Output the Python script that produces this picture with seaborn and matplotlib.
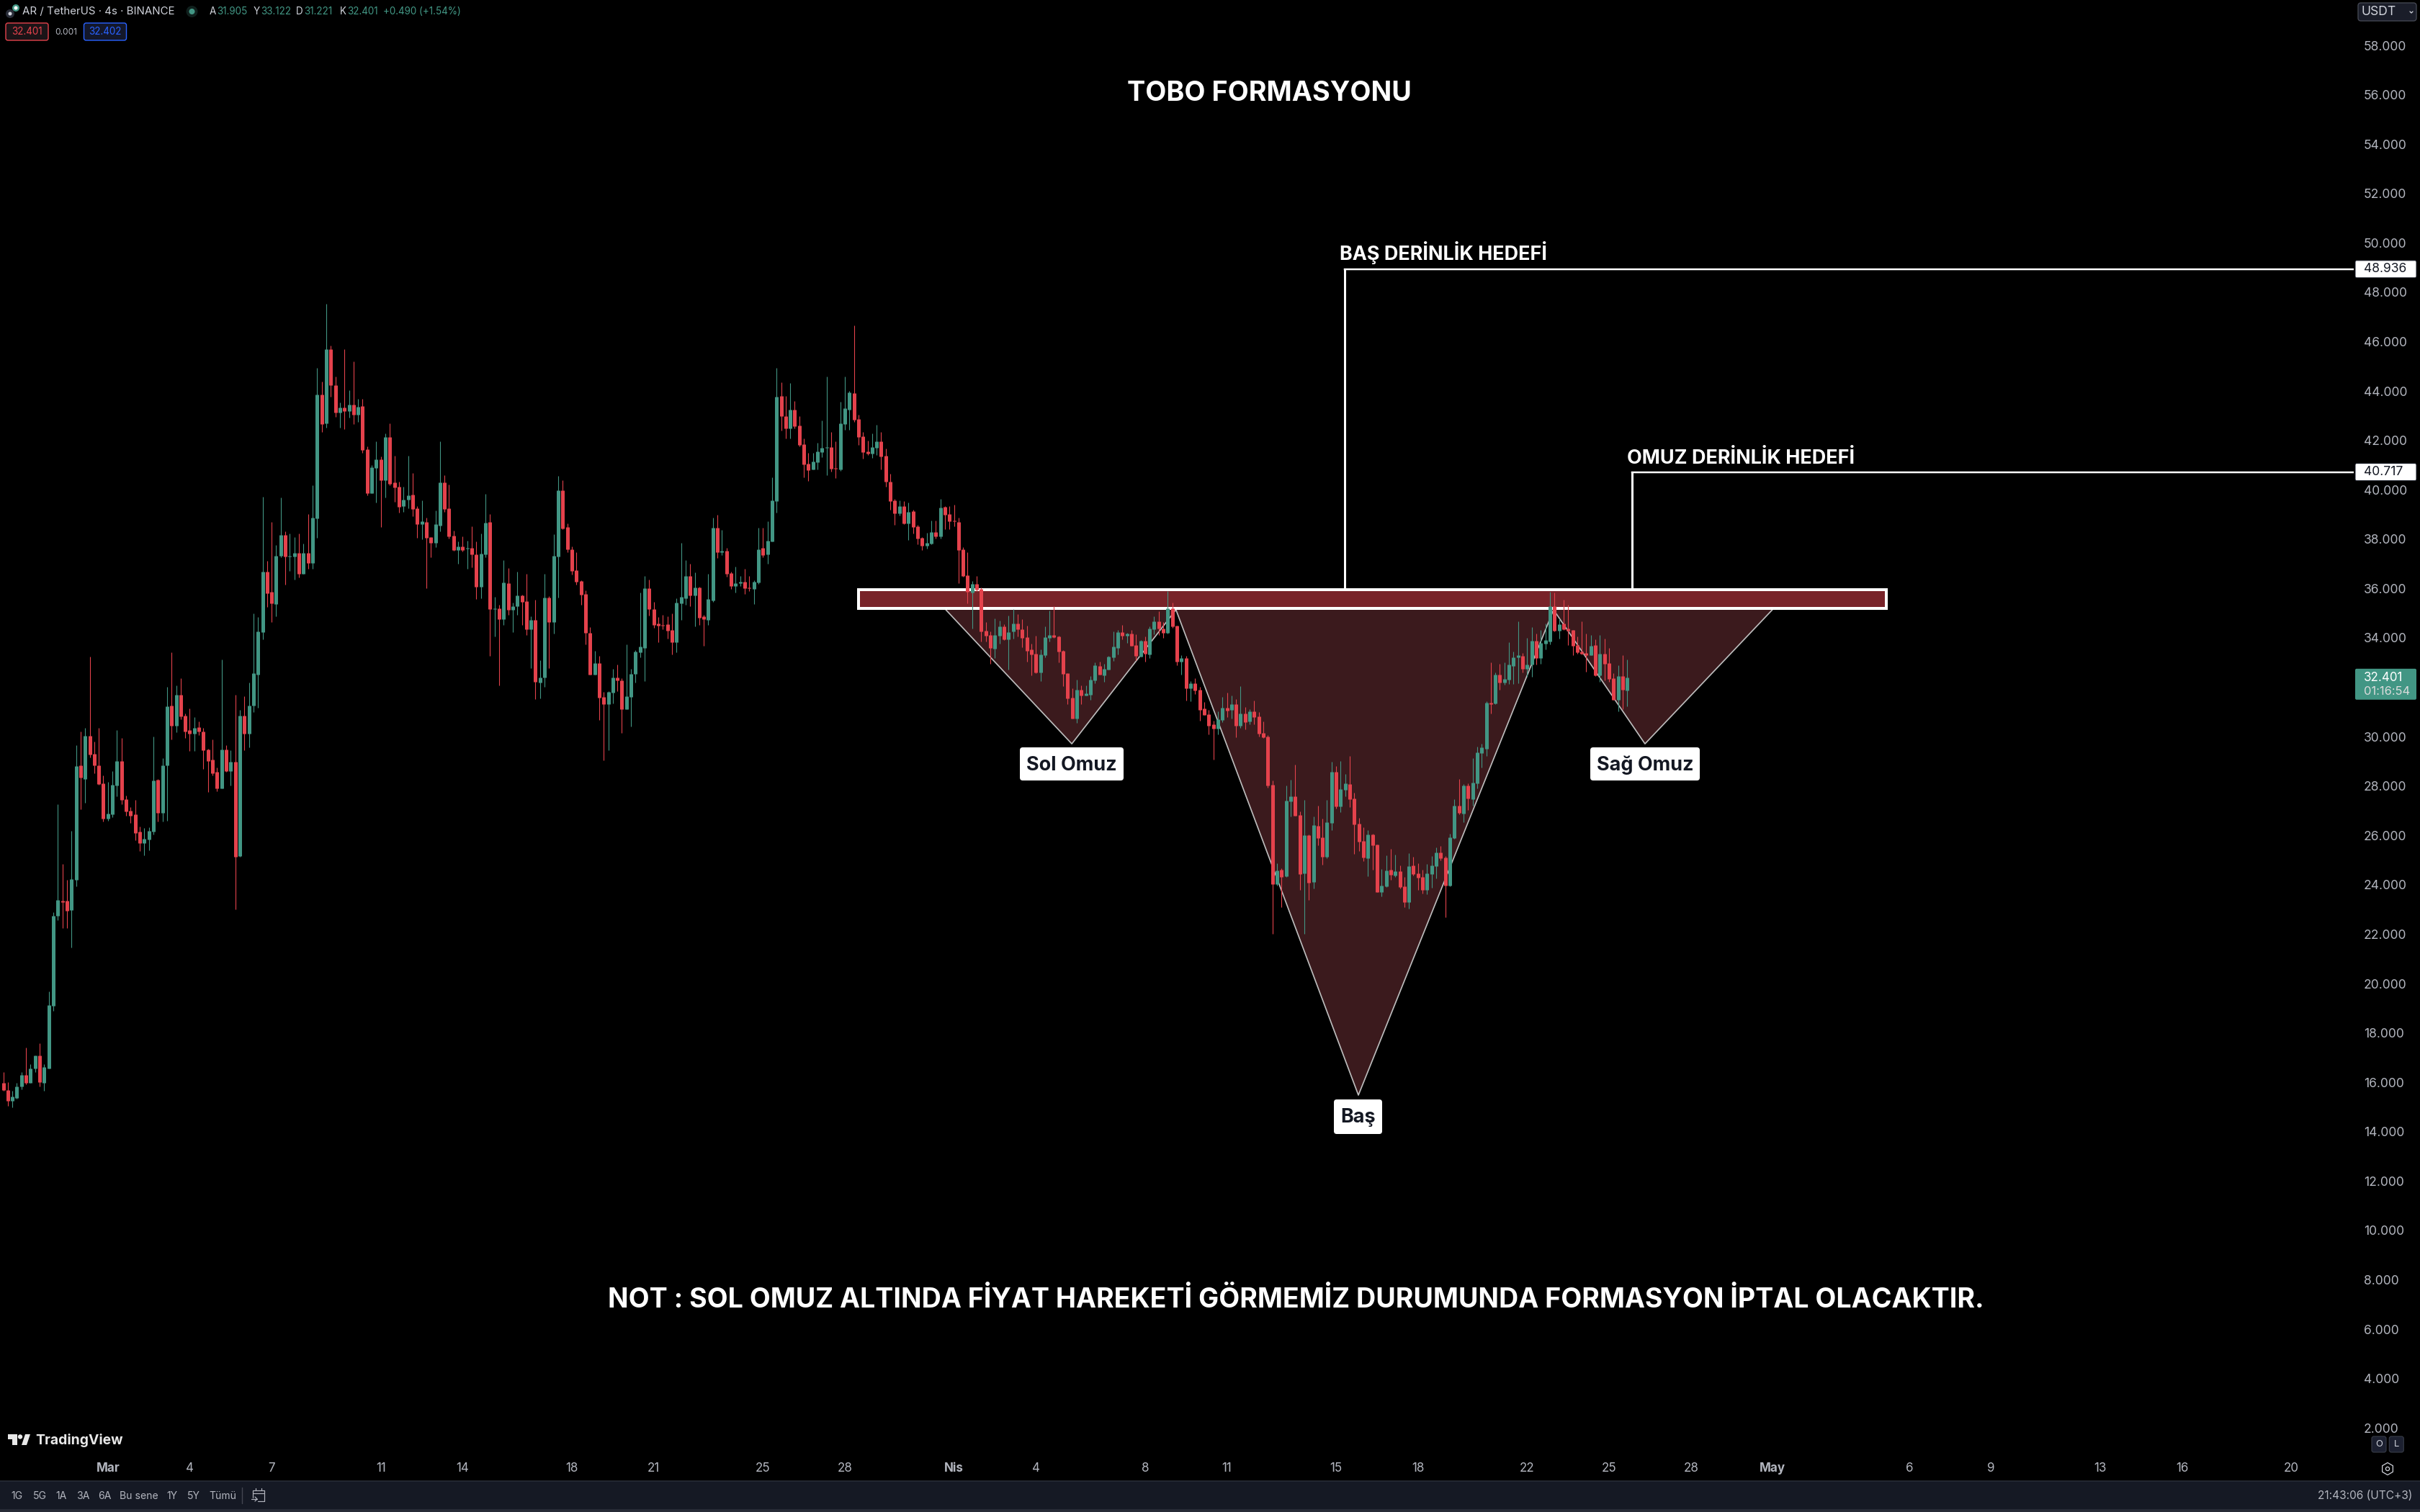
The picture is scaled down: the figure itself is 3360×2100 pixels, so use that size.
import numpy as np
import pandas as pd
import matplotlib
matplotlib.use("Agg")
import matplotlib.pyplot as plt
from matplotlib.patches import Rectangle, FancyBboxPatch, Circle
import seaborn as sns

# ---------- data (prices in USDT, one 4h candle per entry) ----------
candle_dir = ("RRGGGRGGRG" "GGGRRGGRGR" "RRRGGGRRRR" "RGGGRGGRGR" "RRGRRRRRGR" "GRGRGGGGRR"
              "GGRGGRGRGG" "RGRRGRGRGR" "RGGRGRRRGG" "RRGRRGGRRR" "GRGRRGGRGR" "GRGGRRGRGG"
              "RGGRRRRRRR" "GRRGGRRGGG" "GGRRRRRRGG" "GRGRRGGRGR" "RGGRRGGRGG" "GRRGRRRRGG"
              "GGRRGGGRRR" "RGGRRRRGRG" "RRRGGRGRRR" "RRRGRRRRGG" "RGGRRRRRGG" "GRRRRRGRGG"
              "GRGGGGRGRR" "GRGGRRGRRG" "RGRRRRRGGR" "GRGRGRRRRR" "GRGGRRGRGR" "RGGRGGRRRR"
              "GRRGGRGRRG" "RRRGGGRRGG" "RGRGGGGRGR" "GGGGRGGRGG" "GRGRRRRRRG" "RGRRRGRG")

body_top = [
15.97,15.69,15.41,15.84,16.31,16.31,16.57,17.08,17.08,16.61,
19.12,22.75,23.39,23.35,23.35,24.23,28.81,28.83,30.03,30.03,
29.30,28.85,28.10,26.88,28.04,29.00,29.00,27.46,26.99,26.84,
26.15,25.85,26.18,28.21,28.25,28.85,31.22,31.25,31.70,31.70,
30.84,30.26,30.35,30.37,30.22,29.47,29.06,28.57,29.47,29.47,
28.98,28.98,30.84,30.84,31.25,32.57,34.26,36.68,36.68,35.87,
37.32,38.16,38.16,37.32,37.43,37.43,37.43,37.43,38.86,43.85,
43.85,45.69,45.69,44.23,43.33,43.33,43.46,43.46,43.36,43.38,
41.64,40.90,41.22,41.22,42.14,42.14,40.30,40.13,39.59,39.76,
39.80,39.25,38.71,38.69,38.07,38.61,40.30,40.30,39.25,38.13,
37.71,37.71,37.64,37.64,37.39,37.41,38.67,38.69,35.18,35.18,
36.23,36.21,35.28,35.71,35.71,35.48,34.72,34.72,32.40,35.63,
35.63,37.32,39.97,39.97,38.48,37.60,36.74,36.29,35.77,34.20,
32.98,32.98,31.61,31.80,32.40,32.40,32.28,31.64,32.53,33.44,
33.65,36.01,36.01,35.16,34.58,34.52,34.55,34.32,35.42,35.66,
36.50,36.50,36.04,36.04,34.87,35.57,38.45,38.45,37.53,37.53,
36.62,36.21,36.27,36.27,36.04,36.27,37.60,37.63,37.93,39.57,
43.77,43.80,42.98,43.24,43.24,42.60,41.85,41.06,41.15,41.55,
41.70,41.73,41.73,40.88,42.69,43.30,43.94,43.91,42.86,42.16,
41.55,41.73,41.96,41.96,41.37,40.33,39.57,39.33,39.33,39.09,
39.12,38.51,38.05,37.84,38.29,38.29,39.27,39.30,39.02,38.75,
38.69,37.59,36.53,36.18,36.18,35.99,34.30,34.12,34.12,34.47,
34.47,34.24,34.59,34.59,34.35,34.03,33.54,33.36,33.33,34.03,
34.12,34.12,34.06,33.48,32.58,31.58,31.90,31.90,31.76,32.31,
32.89,32.87,32.75,33.25,33.65,34.24,34.24,34.18,34.18,33.71,
33.89,33.89,34.38,34.67,34.67,34.38,35.20,35.20,34.50,33.19,
33.19,32.16,32.16,31.90,31.14,30.91,30.50,30.70,31.17,31.17,
31.32,31.32,30.94,30.94,31.02,31.02,30.82,30.15,30.00,28.05,
24.58,24.61,27.41,27.58,27.58,26.83,26.01,26.01,26.42,26.39,
25.92,26.54,28.58,28.58,27.88,28.11,28.08,27.50,26.48,25.78,
26.04,26.04,25.64,23.97,24.59,24.62,24.56,24.56,23.94,24.76,
24.79,24.47,24.32,24.47,24.79,25.31,25.31,25.11,25.93,27.21,
27.21,28.03,28.03,28.14,29.37,29.57,31.38,31.38,32.52,32.52,
32.34,32.92,33.22,33.30,33.27,32.92,33.88,33.88,33.80,33.91,
35.28,35.28,34.55,34.58,34.38,34.32,33.71,33.45,33.39,33.68,
33.71,33.36,33.36,32.98,32.37,32.45,32.45,32.40]

body_bottom = [
15.67,15.24,15.24,15.37,15.84,15.97,15.97,16.55,16.01,15.99,
16.57,19.09,22.73,23.31,22.95,22.97,24.21,28.34,28.29,29.26,
28.83,28.08,26.67,26.69,26.84,28.02,27.44,26.97,26.80,26.11,
25.70,25.70,25.83,26.15,26.90,26.90,28.83,30.45,30.45,30.82,
30.22,30.11,30.11,30.20,29.45,29.00,28.53,27.89,27.89,28.61,
28.61,25.13,25.15,30.13,30.13,31.25,32.51,34.22,35.80,35.40,
35.36,37.32,37.28,37.28,37.28,36.60,36.60,37.02,37.02,38.84,
42.65,42.69,44.23,43.12,43.12,43.18,43.18,43.04,43.04,41.60,
39.85,39.85,40.87,40.40,40.40,40.25,40.08,39.31,39.33,39.59,
39.21,38.61,38.61,38.05,37.84,37.84,38.56,39.21,38.11,37.56,
37.56,37.56,37.62,37.39,36.06,36.06,37.39,35.16,35.16,34.75,
34.75,35.13,35.13,35.27,35.45,34.35,34.35,32.22,32.19,32.40,
34.64,34.64,37.29,38.44,37.59,36.71,36.26,35.74,34.20,32.50,
32.50,31.58,31.31,31.31,31.77,32.28,31.10,31.10,31.61,32.53,
33.41,33.59,35.16,34.52,34.49,34.49,34.29,33.82,33.82,35.40,
35.60,35.71,35.71,34.81,34.75,34.72,35.51,37.47,37.47,36.59,
36.10,36.10,36.21,36.01,36.01,35.98,36.24,37.35,37.38,37.90,
39.54,42.98,42.49,42.49,42.58,41.82,41.03,40.79,40.82,41.12,
41.52,41.70,40.85,40.85,40.82,42.66,43.24,42.83,42.13,41.52,
41.46,41.46,41.70,41.34,40.33,39.54,39.05,39.05,38.63,38.63,
38.48,38.02,37.72,37.72,37.81,38.11,38.11,38.99,38.72,38.72,
37.56,36.50,35.86,35.83,35.95,34.27,34.09,33.60,33.57,34.09,
33.95,33.95,34.27,34.35,34.00,33.48,33.33,32.60,32.60,33.30,
34.00,34.03,33.45,32.55,31.55,30.74,30.74,31.67,31.67,31.70,
32.28,32.52,32.49,32.72,33.22,33.60,34.09,34.09,33.68,33.27,
33.25,33.36,33.33,34.35,34.38,34.21,34.21,34.47,33.04,33.04,
31.96,31.96,31.87,31.08,30.88,30.44,30.32,30.32,30.67,31.05,
31.08,30.44,30.44,30.59,30.62,30.79,30.12,29.97,28.02,24.03,
24.03,24.32,24.35,27.38,26.80,24.44,24.46,24.09,24.12,25.89,
25.14,25.14,26.51,27.18,27.18,27.85,27.47,26.45,25.75,25.11,
25.08,25.60,23.71,23.71,23.94,24.41,24.38,23.92,23.30,23.30,
24.44,24.29,23.80,23.80,24.44,24.76,25.08,23.97,23.97,25.90,
26.92,26.89,27.50,27.47,28.11,29.34,29.51,31.32,31.35,32.20,
32.20,32.31,32.87,33.22,32.75,32.75,32.91,33.18,33.18,33.77,
33.85,34.29,34.29,34.35,34.29,33.68,33.42,33.36,33.30,33.30,
32.48,32.48,32.95,32.34,31.49,31.49,31.90,31.87]

wick_high = [
16.40,16.01,15.65,15.97,16.40,17.40,16.72,17.08,17.58,16.72,
19.67,22.88,27.27,24.85,24.21,26.18,29.66,30.20,30.35,33.24,
29.81,30.35,28.42,28.17,28.59,30.26,29.94,27.61,27.14,27.44,
26.35,26.30,26.33,30.01,28.29,29.13,32.02,33.43,32.06,32.38,
30.93,31.14,30.78,30.61,30.35,29.51,29.90,28.74,33.11,29.64,
29.45,31.70,31.07,31.65,32.19,34.99,34.84,39.72,37.11,38.69,
37.77,39.68,38.31,38.22,38.07,38.22,37.81,39.01,40.19,44.94,
44.38,47.53,45.84,44.58,43.53,45.69,44.04,45.20,43.68,43.68,
41.77,41.00,41.97,41.35,42.27,42.69,41.37,40.32,40.13,41.37,
40.68,39.33,39.57,38.86,38.07,39.16,41.97,40.58,40.21,38.33,
37.90,38.11,37.94,38.52,37.90,38.24,39.83,39.01,35.67,35.35,
37.15,36.83,35.43,36.68,35.74,36.59,34.87,35.54,33.09,36.59,
35.69,38.20,40.57,40.39,38.65,37.69,37.47,36.34,35.92,34.43,
33.47,33.26,31.80,31.83,32.74,32.92,32.37,33.74,32.74,33.50,
35.83,36.50,36.35,35.45,34.84,34.93,34.87,34.99,35.60,37.84,
37.14,36.99,36.65,36.07,34.93,36.59,38.87,38.99,38.36,37.63,
36.68,36.88,36.50,36.80,36.50,36.33,38.45,38.45,38.72,40.51,
44.93,44.35,43.80,44.32,43.59,42.98,42.07,41.49,41.49,41.90,
42.80,44.58,42.34,41.96,43.56,44.58,44.00,46.65,43.04,42.34,
42.00,42.28,42.63,42.34,41.67,40.64,39.63,39.57,39.54,39.48,
39.18,38.57,38.08,38.27,38.75,38.75,39.63,39.33,39.33,39.39,
38.87,37.66,37.47,36.29,36.50,36.05,34.65,34.27,34.79,34.70,
34.56,34.91,35.17,34.97,34.76,34.50,33.77,34.09,33.54,34.47,
35.11,35.29,34.09,33.51,32.58,31.96,32.31,32.08,32.08,32.46,
33.01,33.04,32.95,33.27,34.27,34.32,34.53,34.21,34.32,34.15,
33.92,34.06,34.47,34.88,35.08,34.65,35.90,35.43,34.50,33.30,
33.27,32.25,32.37,32.02,31.40,31.08,30.65,31.02,31.61,31.78,
31.67,31.52,32.04,31.20,31.11,31.46,30.99,30.62,30.06,28.23,
24.87,24.67,28.02,28.26,28.87,26.97,27.44,26.04,26.77,27.21,
26.68,27.44,28.98,28.81,29.01,28.49,29.22,27.73,26.71,26.33,
26.21,26.07,25.64,24.64,25.20,25.46,25.23,24.79,24.32,25.29,
25.14,24.88,24.62,24.85,25.17,25.52,25.58,25.17,26.07,27.47,
28.29,28.08,28.11,29.13,29.60,29.72,31.44,33.01,32.60,32.95,
33.01,33.83,33.45,34.67,33.39,34.00,34.44,34.17,34.32,34.58,
35.87,35.84,34.79,35.54,35.34,34.32,34.06,34.67,34.17,34.12,
33.94,34.12,33.97,33.59,32.57,32.89,33.30,33.12]

wick_low = [
15.65,15.05,14.97,15.33,15.71,15.93,15.97,16.40,15.84,15.65,
16.57,18.90,22.56,22.24,22.24,21.47,23.95,27.07,27.33,29.17,
28.53,28.04,26.56,26.60,26.73,27.57,27.25,26.80,26.50,25.79,
25.36,25.19,25.41,26.05,26.56,26.56,26.60,29.90,30.18,30.71,
29.94,29.41,29.41,30.07,28.68,27.76,28.42,27.78,27.89,28.57,
28.02,22.99,25.13,29.45,29.56,30.99,31.18,33.94,35.25,34.63,
34.86,37.26,36.15,36.70,36.36,36.45,36.60,36.79,36.79,38.05,
42.33,42.50,43.78,42.95,42.50,42.46,42.93,42.65,42.74,41.49,
39.76,39.85,39.48,38.48,39.68,40.19,39.50,39.08,39.10,39.25,
38.93,38.05,37.99,36.00,37.26,37.67,38.31,39.10,38.03,37.54,
37.00,37.49,36.81,36.85,35.57,35.59,37.26,33.26,34.07,32.06,
34.52,34.93,34.23,34.93,34.52,34.11,32.77,31.52,31.55,32.01,
32.77,34.17,35.63,38.39,37.46,36.56,36.15,35.34,33.74,32.50,
32.50,30.67,29.05,29.45,31.35,31.83,30.15,31.10,30.40,32.19,
33.22,32.25,34.90,34.40,33.82,34.36,33.96,33.32,33.41,34.72,
35.34,35.28,34.46,34.52,33.68,34.52,35.45,37.23,37.35,36.49,
35.98,35.83,36.10,35.77,35.89,35.37,36.18,37.26,36.99,37.90,
39.06,42.40,42.07,42.07,42.49,41.76,40.51,40.36,40.82,40.82,
41.31,40.58,40.73,40.48,40.76,42.43,42.43,42.74,41.82,41.27,
41.40,41.30,41.40,40.82,40.12,39.18,38.57,38.97,38.60,37.96,
38.23,37.78,37.56,37.62,37.78,38.02,38.02,38.39,38.39,38.51,
36.21,36.47,35.40,34.37,35.89,33.86,33.86,32.95,33.19,33.77,
33.92,32.72,33.97,34.06,33.63,33.04,32.49,32.58,32.25,33.22,
33.86,34.00,33.01,32.05,31.32,30.74,30.56,31.32,31.67,31.50,
32.17,32.52,32.22,32.72,33.07,33.33,33.95,33.80,33.68,33.10,
33.25,33.04,33.19,34.15,34.12,34.00,34.18,34.41,32.90,32.52,
31.47,31.43,31.72,30.65,30.88,30.09,29.07,30.09,30.59,30.79,
30.73,29.97,30.35,30.30,30.50,30.50,30.00,29.95,27.93,22.02,
23.97,23.09,24.32,26.77,26.80,23.79,22.02,23.39,23.85,25.60,
24.81,25.08,26.21,27.09,26.94,27.58,27.15,25.25,25.37,24.96,
24.35,24.61,23.71,23.54,23.92,24.21,24.32,23.86,23.10,23.04,
24.38,23.80,23.65,23.62,23.89,24.26,24.99,22.69,23.94,25.87,
26.86,26.54,27.03,27.21,27.91,28.75,29.22,30.94,31.32,31.90,
32.11,32.14,32.14,32.17,32.60,32.43,32.43,32.92,32.95,33.53,
33.74,34.26,33.97,34.32,33.71,33.30,33.36,33.33,32.63,33.30,
32.45,32.22,32.28,32.22,31.49,31.03,31.11,31.23]

# Formation drawing: candle number and price of each corner
pattern_candle = [207.2, 234.9, 257.8, 297.9, 340.8, 360.9, 388.9]
pattern_price = [35.14, 29.71, 35.14, 15.48, 35.14, 29.71, 35.14]
band_candles = [188.0, 413.9]
band_prices = [35.19, 35.95]
target_head = dict(candle=294.9, price=48.936, label="48.936")
target_shoulder = dict(candle=358.0, price=40.717, label="40.717")
last_price = 32.401

price_ticks = list(range(2, 60, 2))
date_ticks = [23, 41, 59, 83, 101, 125, 143, 167, 185, 209, 227, 251, 269, 293, 311,
              335, 353, 371, 389, 419, 437, 461, 479, 503]
date_labels = ["Mar", "4", "7", "11", "14", "18", "21", "25", "28", "Nis", "4", "8", "11",
               "15", "18", "22", "25", "28", "May", "6", "9", "13", "16", "20"]
months = {"Mar", "Nis", "May"}

GREEN = "#429684"
RED = "#e4424c"
GREY = "#b2b5be"
PX = 0.72  # one figure pixel in points at dpi 100

sns.set_theme(style="dark", rc={"axes.facecolor": "black", "figure.facecolor": "black",
                                "axes.grid": False, "text.color": "white"})
plt.rcParams["font.family"] = ["Inter", "DejaVu Sans"]

W, H = 3360, 2100
AX_R, AX_B = 3268, 2020
fig = plt.figure(figsize=(W / 100, H / 100), dpi=100, facecolor="black")
ax = fig.add_axes([0, 1 - AX_B / H, AX_R / W, AX_B / H], facecolor="black")

# ---------- formation underlay ----------
ax.fill(pattern_candle, pattern_price, color="#3b1a1d", lw=0, zorder=1)
sns.lineplot(x=pattern_candle, y=pattern_price, sort=False, estimator=None, color="#bdbdbd",
             linewidth=1.7 * PX, ax=ax, zorder=1.5)
ax.add_patch(Rectangle((band_candles[0], band_prices[0]), band_candles[1] - band_candles[0],
                       band_prices[1] - band_prices[0], facecolor="#782329", edgecolor="white",
                       linewidth=4 * PX, zorder=2))
for tgt in (target_head, target_shoulder):
    ax.plot([tgt["candle"], tgt["candle"]], [band_prices[1], tgt["price"]], color="white",
            lw=3 * PX, zorder=2, solid_capstyle="projecting")
    ax.plot([tgt["candle"], 520], [tgt["price"], tgt["price"]], color="white", lw=2.5 * PX,
            zorder=2, solid_capstyle="projecting")

# ---------- candles ----------
idx = np.arange(len(candle_dir))
dirs = list(candle_dir)
wicks = pd.DataFrame({"candle": np.r_[idx, idx], "price": wick_low + wick_high, "dir": dirs * 2})
bodies = pd.DataFrame({"candle": np.r_[idx, idx], "price": body_bottom + body_top, "dir": dirs * 2})
palette = {"G": GREEN, "R": RED}
sns.lineplot(data=wicks, x="candle", y="price", hue="dir", units="candle", estimator=None,
             palette=palette, linewidth=1.1 * PX, legend=False, ax=ax, zorder=3,
             solid_capstyle="butt", sort=False)
sns.lineplot(data=bodies, x="candle", y="price", hue="dir", units="candle", estimator=None,
             palette=palette, linewidth=5 * PX, legend=False, ax=ax, zorder=3.5,
             solid_capstyle="butt", sort=False)

# ---------- scales ----------
ax.set_xlim(-4.5 / 6.316, (AX_R - 4.5) / 6.316)
ax.set_ylim(58 - (AX_B - 63) / 34.29, 58 + 63 / 34.29)
ax.set_xlabel("")
ax.set_ylabel("")
ax.yaxis.tick_right()
ax.set_yticks(price_ticks)
ax.set_yticklabels([f"{p}.000" for p in price_ticks], color=GREY, fontsize=17.5 * PX)
ax.set_xticks(date_ticks)
ax.set_xticklabels(date_labels, color=GREY, fontsize=17 * PX)
ax.tick_params(axis="y", length=0, pad=14 * PX)
ax.tick_params(axis="x", length=0, pad=11 * PX)
for lab in ax.get_xticklabels():
    if lab.get_text() in months:
        lab.set_fontweight("bold")
for s in ax.spines.values():
    s.set_visible(False)

# ---------- overlay in figure pixels: texts, tags and the platform chrome ----------
ui = fig.add_axes([0, 0, 1, 1], facecolor="none", zorder=5)
ui.set_xlim(0, W)
ui.set_ylim(H, 0)
ui.axis("off")


def price_y(p):
    return 63 + (58 - p) * 34.29


def txt(x, y, s, size, color="white", weight="normal", ha="left", **kw):
    return ui.text(x, y, s, fontsize=size * PX, color=color, fontweight=weight, ha=ha,
                   va="center", **kw)


def box(x0, y0, x1, y1, face, edge="none", lw=1.0, r=3):
    ui.add_patch(FancyBboxPatch((x0 + r, y0 + r), x1 - x0 - 2 * r, y1 - y0 - 2 * r,
                                boxstyle=f"round,pad={r},rounding_size={r}", fc=face, ec=edge,
                                lw=lw * PX))


# headline texts
txt(1762, 130, "TOBO FORMASYONU", 37.8, weight="bold", ha="center")
txt(1860, 351, "BAŞ DERİNLİK HEDEFİ", 27, weight="bold")
txt(2259, 637, "OMUZ DERİNLİK HEDEFİ", 27, weight="bold")
txt(1799, 1806, "NOT : SOL OMUZ ALTINDA FİYAT HAREKETİ GÖRMEMİZ DURUMUNDA FORMASYON İPTAL OLACAKTIR.",
    37.6, weight="bold", ha="center")

# pattern labels
box(1416, 1038, 1560, 1084, "white", r=4)
txt(1488, 1063, "Sol Omuz", 27, color="#131722", weight="bold", ha="center")
box(2208, 1038, 2360, 1084, "white", r=4)
txt(2284, 1063, "Sağ Omuz", 27, color="#131722", weight="bold", ha="center")
box(1852, 1527, 1919, 1575, "white", r=4)
txt(1886, 1552, "Baş", 27, color="#131722", weight="bold", ha="center")

# price tags
for tgt in (target_head, target_shoulder):
    y = price_y(tgt["price"])
    box(3270, y - 12, 3355, y + 12, "white", edge="#131722", r=2)
    txt(3282, y, tgt["label"], 17.5, color="#131722")
y = price_y(last_price)
box(3270, y - 12, 3355, y + 31, GREEN, r=2)
txt(3282, y + 0.5, f"{last_price:.3f}", 17)
txt(3282, y + 20, "01:16:54", 16.5, color="#dcdcdc")

# header
ui.add_patch(Circle((22, 11), 5, fc=GREEN, ec="none"))
ui.add_patch(Circle((22, 11), 2.5, fc="white", ec="none"))
ui.add_patch(Circle((14, 19), 6, fc="#2a2e39", ec="none"))
ui.add_patch(Circle((14, 19), 2.5, fc="#d1d4dc", ec="none"))
txt(31, 16, "AR / TetherUS · 4s · BINANCE", 15, color="#d1d4dc")
ui.add_patch(Circle((266.5, 16), 8, fc="#10201d", ec="none"))
ui.add_patch(Circle((266.5, 16), 4, fc=GREEN, ec="none"))
for x, s in [(291, "A"), (352, "Y"), (411, "D"), (472, "K")]:
    txt(x, 16, s, 13.5, color="#d1d4dc")
for x, s in [(301, "31.905"), (362, "33.122"), (422, "31.221"), (482, "32.401"),
             (532, "+0.490 (+1.54%)")]:
    txt(x, 16, s, 13.5, color=GREEN)
box(8, 32, 67, 56, "#1b1417", edge=RED, lw=1.4, r=3)
txt(37.5, 44.5, "32.401", 13.5, color=RED, ha="center")
txt(92, 45, "0.001", 12, color=GREY, ha="center")
box(116.5, 32, 175.5, 56, "#13172a", edge="#2962ff", lw=1.4, r=3)
txt(146, 44.5, "32.402", 13.5, color="#2962ff", ha="center")

# currency selector
box(3274, 4, 3355, 29, "#1a1d29", edge="#434651", lw=1.4, r=4)
txt(3278, 16.5, "USDT", 17.5, color="#d1d4dc")
ui.plot([3346, 3348, 3350], [16, 18, 16], color="#d1d4dc", lw=1.3 * PX)

# watermark
ui.fill([11, 24, 24, 17, 17, 11], [1992, 1992, 2007, 2007, 1999, 1999], color="#e8e8e8", lw=0)
ui.add_patch(Circle((28, 1995.5), 3.2, fc="#e8e8e8", ec="none"))
ui.fill([35, 42, 37, 30], [1992, 1992, 2007, 2007], color="#e8e8e8", lw=0)
txt(49, 2000, "TradingView", 19.3, color="#e8e8e8", weight="bold")

# bottom bar
ui.add_patch(Rectangle((0, 2057), W, 39, fc="#151924", ec="none"))
ui.add_patch(Rectangle((0, 2096), W, 4, fc="#272b36", ec="none"))
ui.plot([0, W], [2057, 2057], color="#2a2e39", lw=1.5 * PX)
for x, s in [(15, "1G"), (45.5, "5G"), (77, "1A"), (106, "3A"), (136, "6A"), (166, "Bu sene"),
             (231, "1Y"), (260, "5Y"), (290, "Tümü")]:
    txt(x, 2078, s, 14, color=GREY)
ui.plot([336, 336], [2066, 2088], color="#434651", lw=1.4 * PX)
ui.plot([351, 351, 367, 367, 358], [2080, 2070, 2070, 2085, 2085], color=GREY, lw=1.2 * PX)
ui.plot([351, 367], [2074, 2074], color=GREY, lw=1.2 * PX)
ui.plot([355, 355], [2067, 2070], color=GREY, lw=1.2 * PX)
ui.plot([363, 363], [2067, 2070], color=GREY, lw=1.2 * PX)
ui.plot([349, 357], [2082, 2082], color=GREY, lw=1.2 * PX)
ui.plot([354, 357, 354], [2079, 2082, 2085], color=GREY, lw=1.2 * PX)
txt(3349, 2078, "21:43:06 (UTC+3)", 15.5, color=GREY, ha="right")

# scale buttons
for x0, s in [(3293, "O"), (3317.3, "L")]:
    box(x0, 1995, x0 + 20, 2017, "#1c2030", edge="#363a45", lw=1.2, r=3)
    txt(x0 + 10, 2006, s, 13, color="#d1d4dc", ha="center")
ui.scatter([3315], [2040], marker="h", s=150, facecolors="none", edgecolors="#d1d4dc", linewidths=0.9)
ui.scatter([3315], [2040], marker="o", s=14, facecolors="none", edgecolors="#d1d4dc", linewidths=0.9)

fig.savefig("out.png", dpi=100, facecolor="black")
